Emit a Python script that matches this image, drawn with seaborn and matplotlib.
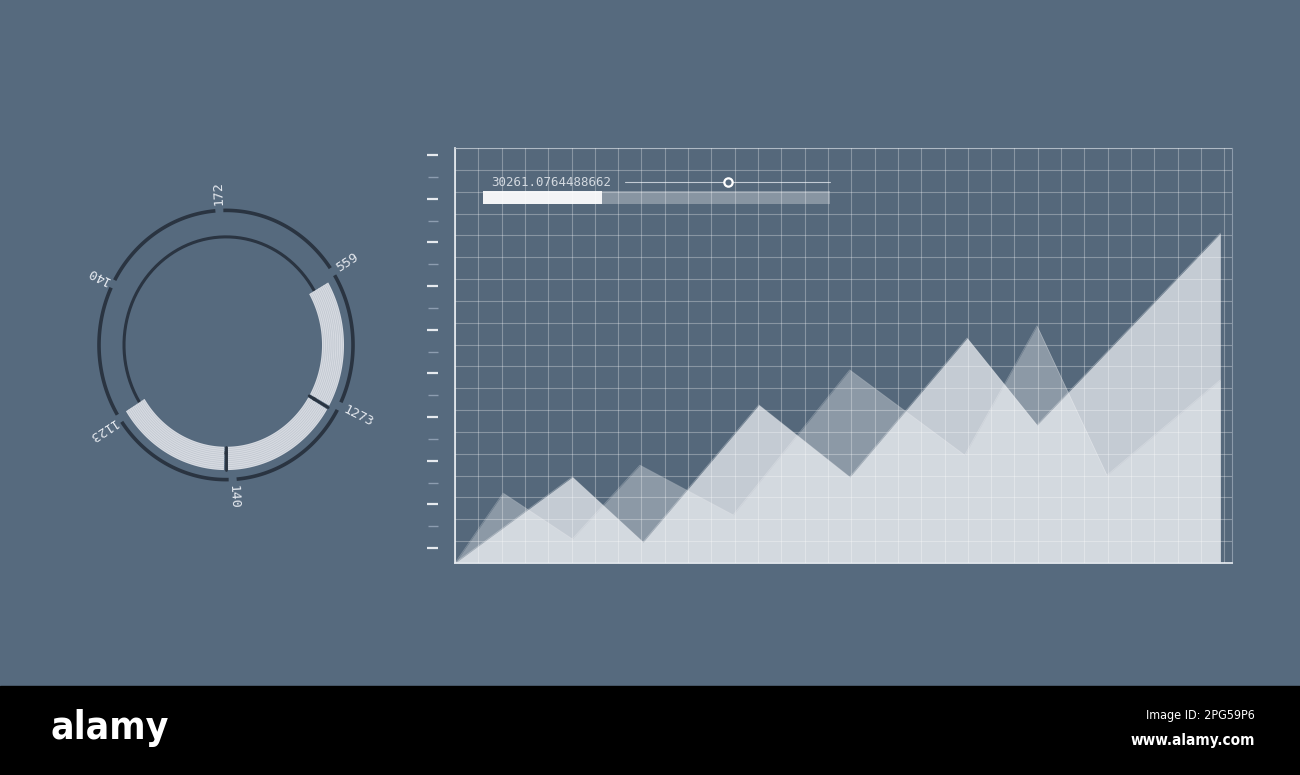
import numpy as np
import seaborn as sns
import matplotlib.pyplot as plt
from matplotlib.patches import Rectangle

# ---- area chart data (x 0-100, y 0-95) ----
xa = [0, 6.2, 15.1, 23.8, 35.8, 50.8, 65.6, 74.9, 83.9, 98.5]
ya = [0, 16.0, 5.5, 22.4, 11.0, 44.2, 24.7, 54.3, 20.1, 41.9]
xb = [0, 15.1, 24.2, 39.1, 50.8, 65.9, 74.9, 98.5]
yb = [0, 19.7, 4.8, 36.2, 19.7, 51.5, 31.6, 75.5]

readout = '30261.0764488662'
bar_min, bar_max, bar_val = 3.6, 48.3, 18.9
slider_val = 35.1

# ---- ring data ----
ring_labels = ['172', '559', '1273', '140', '1123', '140']
ring_angles = [93, 33, -27, -87, -147, 153]
seg_start = [30, -31, -91]
seg_end = [-29, -89, -148]

bg = '#566a7e'
dark = '#2a3441'
light = '#e4e8ee'

sns.set_theme(style='dark', rc={'axes.facecolor': bg, 'figure.facecolor': bg,
                                'savefig.facecolor': bg})
plt.rcParams['font.family'] = ['DejaVu Sans']

fig = plt.figure(figsize=(13, 7.75), dpi=100)

# ---------------- main area chart ----------------
ax = fig.add_axes([455/1300, 212/775, 777/1300, 415/775])
ax.set_facecolor('#55687b')
ax.fill_between(xa, ya, color='white', alpha=0.33, lw=0)
sns.lineplot(x=xa, y=ya, ax=ax, color='white', alpha=0.25, lw=0.6)
ax.fill_between(xb, yb, color='#f0f2f6', alpha=0.72, lw=0)
sns.lineplot(x=xb, y=yb, ax=ax, color='white', alpha=0.3, lw=0.6)

ax.set_xlim(0, 100)
ax.set_ylim(0, 95)
ax.set_xticks(np.arange(0, 100, 3))
ax.set_yticks(np.arange(0, 96, 5))
ax.set_xticklabels([])
ax.set_yticklabels([])
ax.tick_params(length=0)
ax.set_axisbelow(False)
ax.grid(True, color='white', alpha=0.3, lw=0.8)
for s in ['left', 'bottom']:
    ax.spines[s].set_visible(True)
    ax.spines[s].set_color('#dfe4ea')
    ax.spines[s].set_linewidth(1.3)
for s in ['top', 'right']:
    ax.spines[s].set_visible(True)
    ax.spines[s].set_color('#8c9bab')
    ax.spines[s].set_linewidth(0.8)

# readout widget
ax.text(4.6, 87.2, readout, family='DejaVu Sans Mono', fontsize=9,
        color='#d3d9e0', va='center', ha='left')
ax.plot([21.9, 48.3], [87.2, 87.2], color='#c2cad4', lw=0.8)
ax.plot([slider_val], [87.2], 'o', ms=6, mfc=bg, mec='white', mew=1.6)
ax.barh(83.7, bar_max - bar_min, left=bar_min, height=3.0, color='white',
        alpha=0.3, lw=0)
ax.barh(83.7, bar_val - bar_min, left=bar_min, height=3.0, color='#f3f4f6', lw=0)

# offset tick ruler on the left
ax2 = ax.twinx()
ax2.set_ylim(0, 95)
ax2.yaxis.tick_left()
for s in ax2.spines.values():
    s.set_visible(False)
ax2.spines['left'].set_position(('outward', 12))
ax2.set_yticks(3.4 + 10 * np.arange(10))
ax2.set_yticks(8.4 + 10 * np.arange(9), minor=True)
ax2.set_yticklabels([])
ax2.tick_params(axis='y', which='major', length=8, width=1.6, color='#e6eaef', left=True)
ax2.tick_params(axis='y', which='minor', length=7, width=1.0, color='#8d9db0', left=True)
ax2.grid(False)

# ---------------- ring ----------------
axd = fig.add_axes([56/1300, 245/775, 340/1300, 370/775])
axd.set_xlim(-170, 170)
axd.set_ylim(-185, 185)
axd.axis('off')
stretch = 1.06
r_outer, r_inner, r_in, r_out, r_lab = 127, 102, 96, 118, 132


def arc(a0, a1, r, **kw):
    t = np.radians(np.linspace(a0, a1, 120))
    axd.plot(r * np.cos(t), r * np.sin(t) * stretch, **kw)


arc(0, 360, r_inner, color=dark, lw=2.2, solid_capstyle='butt', zorder=1)

angs = [a if a <= 93 else a - 360 for a in ring_angles] + [93 - 360]
for a0, a1 in zip(angs[:-1], angs[1:]):
    arc(a0 - 1.8, a1 + 1.8, r_outer, color=dark, lw=2.6, solid_capstyle='butt')

for s, e in zip(seg_start, seg_end):
    t = np.radians(np.linspace(s, e, 100))
    xs = np.concatenate([r_in * np.cos(t), r_out * np.cos(t[::-1])])
    ys = np.concatenate([r_in * np.sin(t), r_out * np.sin(t[::-1])]) * stretch
    axd.fill(xs, ys, color='#d6dae1', lw=0, zorder=3)
    for rr in np.linspace(r_in + 1.5, r_out - 1.5, 11):
        arc(s, e, rr, color='#bcc3cc', lw=0.4, zorder=3.5)
for b in [-30, -90]:
    t = np.radians(b)
    axd.plot([r_in * np.cos(t), r_out * np.cos(t)],
             [r_in * np.sin(t) * stretch, r_out * np.sin(t) * stretch],
             color=dark, lw=2, zorder=4)

for lab, a in zip(ring_labels, ring_angles):
    t = np.radians(a)
    axd.text(r_lab * np.cos(t), r_lab * np.sin(t) * stretch, lab,
             rotation=a, rotation_mode='anchor', ha='left', va='center',
             family='DejaVu Sans Mono', fontsize=9.5, color=light)

# ---------------- bottom band ----------------
fig.add_artist(Rectangle((0, 0), 1, 89/775, transform=fig.transFigure,
                         color='black', zorder=0))
fig.text(50/1300, 47/775, 'alamy', color='white', fontsize=28, weight='bold',
         fontstretch='condensed', va='center', ha='left')
fig.text(1255/1300, 60/775, 'Image ID: 2PG59P6', color='white', fontsize=9,
         fontstretch='condensed', va='center', ha='right')
fig.text(1255/1300, 34/775, 'www.alamy.com', color='white', fontsize=11,
         weight='bold', fontstretch='condensed', va='center', ha='right')

fig.savefig('out.png', dpi=100)
